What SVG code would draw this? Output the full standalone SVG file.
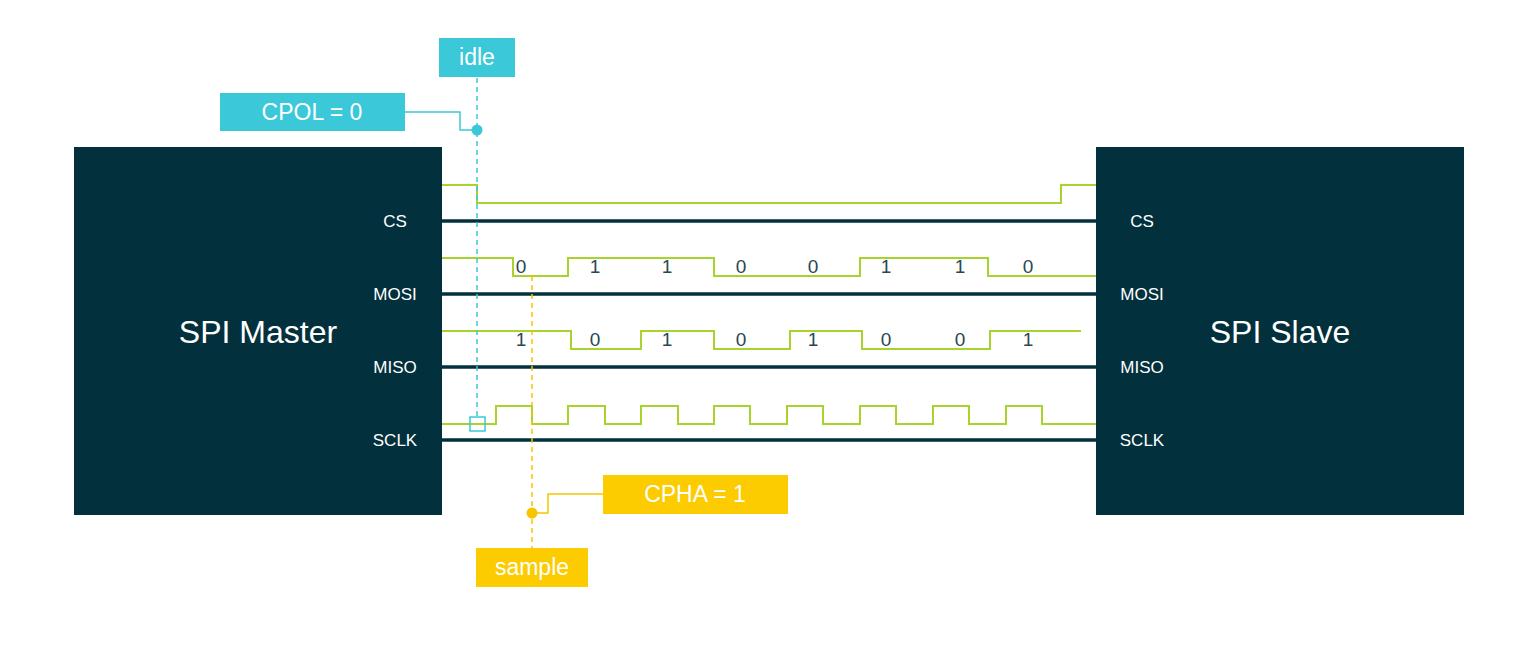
<svg xmlns="http://www.w3.org/2000/svg" width="1536" height="660" viewBox="0 0 1536 660">
<style>
.box{fill:#02303c}
.big{font-family:"Liberation Sans",Arial,sans-serif;font-size:32px;fill:#fff;text-anchor:middle}
.sig{font-family:"Liberation Sans",Arial,sans-serif;font-size:17px;fill:#fff;text-anchor:middle}
.bus{stroke:#02303c;stroke-width:3.5;fill:none}
.wave{stroke:#a6d42c;stroke-width:2;fill:none}
.dig{font-family:"Liberation Sans",Arial,sans-serif;font-size:19px;fill:#2a4750;text-anchor:middle}
.lab{font-family:"Liberation Sans",Arial,sans-serif;font-size:23px;fill:#fff;text-anchor:middle}
</style>
<rect width="1536" height="660" fill="#fff"/>
<g id="master"><rect class="box" x="74" y="147" width="368" height="368"/><text class="big" x="258" y="343">SPI Master</text>
<text class="sig" x="395" y="227">CS</text><text class="sig" x="395" y="300">MOSI</text><text class="sig" x="395" y="373">MISO</text><text class="sig" x="395" y="446">SCLK</text></g>
<g id="slave"><rect class="box" x="1096" y="147" width="368" height="368"/><text class="big" x="1280" y="343">SPI Slave</text>
<text class="sig" x="1142" y="227">CS</text><text class="sig" x="1142" y="300">MOSI</text><text class="sig" x="1142" y="373">MISO</text><text class="sig" x="1142" y="446">SCLK</text></g>
<g id="connectors">
<line class="bus" x1="442" y1="221" x2="1096" y2="221"/>
<line class="bus" x1="442" y1="294" x2="1096" y2="294"/>
<line class="bus" x1="442" y1="367" x2="1096" y2="367"/>
<line class="bus" x1="442" y1="440" x2="1096" y2="440"/>
<polyline class="wave" points="442,185 477,185 477,203 1061,203 1061,185 1096,185"/>
<polyline class="wave" points="442,258 513,258 513,276 568,276 568,258 714,258 714,276 860,276 860,258 988,258 988,276 1096,276"/>
<polyline class="wave" points="442,331 571,331 571,349 641,349 641,331 714,331 714,349 790,349 790,331 862,331 862,349 990,349 990,331 1081,331"/>
<polyline class="wave" points="442,424 496,424 496,406 532,406 532,424 568,424 568,406 605,406 605,424 641,424 641,406 678,406 678,424 714,424 714,406 750,406 750,424 787,424 787,406 823,406 823,424 860,424 860,406 896,406 896,424 933,424 933,406 969,406 969,424 1006,424 1006,406 1042,406 1042,424 1096,424"/>
<line x1="477" y1="78" x2="477" y2="417" stroke="#3bc8d8" stroke-width="1.5" stroke-dasharray="5,4"/>
<rect x="470" y="417" width="15" height="14" fill="none" stroke="#3bc8d8" stroke-width="1.5"/>
<polyline points="405,112 460,112 460,130 477,130" fill="none" stroke="#3bc8d8" stroke-width="1.5"/>
<circle cx="477" cy="130" r="5.5" fill="#3bc8d8"/>
<line x1="532" y1="276" x2="532" y2="548" stroke="#f6c400" stroke-width="1.5" stroke-dasharray="5,4"/>
<polyline points="532,513 548,513 548,494 603,494" fill="none" stroke="#f6c400" stroke-width="1.5"/>
<circle cx="532" cy="513" r="5.5" fill="#f6c400"/>
</g>
<g id="digits">
<text class="dig" x="521" y="273">0</text><text class="dig" x="595" y="273">1</text><text class="dig" x="667" y="273">1</text><text class="dig" x="741" y="273">0</text><text class="dig" x="813" y="273">0</text><text class="dig" x="886" y="273">1</text><text class="dig" x="960" y="273">1</text><text class="dig" x="1028" y="273">0</text>
<text class="dig" x="521" y="346">1</text><text class="dig" x="595" y="346">0</text><text class="dig" x="667" y="346">1</text><text class="dig" x="741" y="346">0</text><text class="dig" x="813" y="346">1</text><text class="dig" x="886" y="346">0</text><text class="dig" x="960" y="346">0</text><text class="dig" x="1028" y="346">1</text>
</g>
<g id="idle"><rect x="439" y="38" width="76" height="39" fill="#3bc8d8"/><text class="lab" x="477" y="65">idle</text></g>
<g id="cpol"><rect x="220" y="93" width="185" height="38" fill="#3bc8d8"/><text class="lab" x="312" y="120">CPOL = 0</text></g>
<g id="cpha"><rect x="603" y="475" width="185" height="39" fill="#fccb00"/><text class="lab" x="695" y="502">CPHA = 1</text></g>
<g id="sample"><rect x="476" y="548" width="112" height="39" fill="#fccb00"/><text class="lab" x="532" y="575">sample</text></g>
</svg>
